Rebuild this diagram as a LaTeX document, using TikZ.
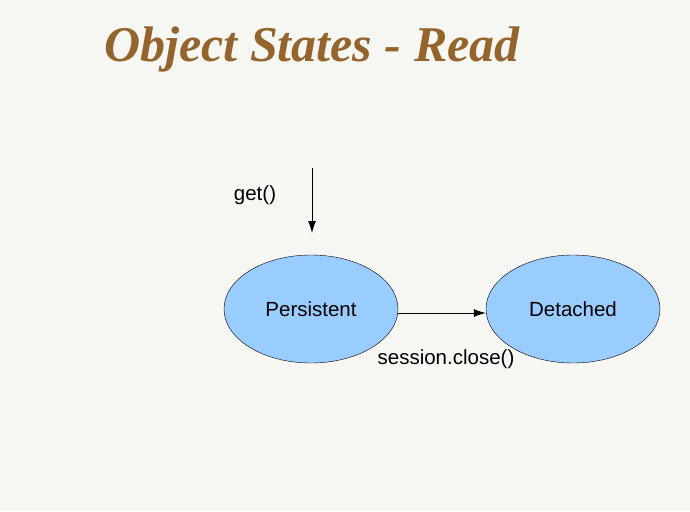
\documentclass[tikz,border=0pt]{standalone}
\usepackage{fontspec}
\setmainfont{Liberation Sans}
\newfontfamily\titlefont{Liberation Serif}
\usetikzlibrary{arrows.meta,shapes.geometric}
\definecolor{bg}{HTML}{F6F6F2}
\definecolor{titlec}{HTML}{94642C}
\definecolor{stfill}{HTML}{99CCFF}
\begin{document}
\begin{tikzpicture}[x=1pt,y=-1pt,
  state/.style={ellipse,draw=black,fill=stfill,minimum width=174pt,minimum height=108pt,inner sep=0pt,font=\fontsize{20.5}{24}\selectfont},
  lbl/.style={font=\fontsize{20.5}{24}\selectfont},
  conn/.style={-{Latex[length=12pt,width=8pt]},line width=0.8pt}]
\fill[bg] (0,0) rectangle (690,511);
\useasboundingbox (0,0) rectangle (690,511);
\node[font=\titlefont\bfseries\itshape\fontsize{50}{56}\selectfont,text=titlec] (title) at (312,49) {Object States - Read};
\node[state] (p) at (311,309) {Persistent};
\node[state] (d) at (573,309) {Detached};
\coordinate (top) at (312,168);
\draw[conn] (top) -- (312,233);
\node[lbl] (get) at (255,195) {get()};
\draw[conn] (p.east |- 0,313) -- (d.west |- 0,313);
\node[lbl] (close) at (446,359) {session.close()};
\end{tikzpicture}
\end{document}
